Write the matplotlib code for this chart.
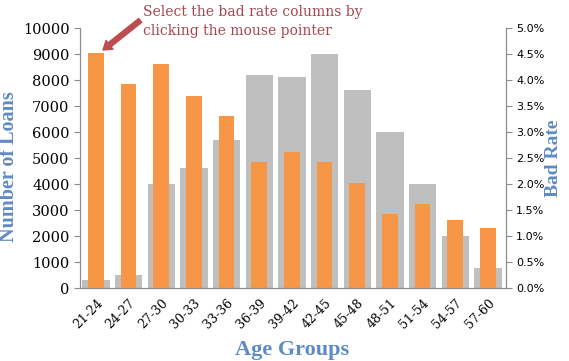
import numpy as np
import matplotlib.pyplot as plt
from matplotlib.ticker import FuncFormatter

age_groups = ['21-24', '24-27', '27-30', '30-33', '33-36', '36-39', '39-42',
              '42-45', '45-48', '48-51', '51-54', '54-57', '57-60']
num_loans = [300, 500, 4000, 4600, 5700, 8200, 8100, 9000, 7600, 6000, 4000, 2000, 780]
bad_rate = [4.52, 3.92, 4.30, 3.70, 3.30, 2.43, 2.62, 2.43, 2.02, 1.43, 1.62, 1.31, 1.16]

title_color = '#5f8ac4'
axis_color = '#8c8c8c'

fig = plt.figure(figsize=(5.69, 3.61), dpi=100)
ax = fig.add_axes([0.1406, 0.2022, 0.7484, 0.7202])
ax2 = ax.twinx()

x = np.arange(len(age_groups))
ax.bar(x, num_loans, width=0.84, color='#bfbfbf', zorder=1)
ax2.bar(x, bad_rate, width=0.48, color='#f79646', zorder=2)

ax.set_xlim(-0.49, len(age_groups) - 0.45)
ax.set_ylim(0, 10000)
ax.set_yticks(range(0, 10001, 1000))
ax2.set_ylim(0, 5)
ax2.set_yticks(np.arange(0, 5.01, 0.5))
ax2.yaxis.set_major_formatter(FuncFormatter(lambda v, p: '%.1f%%' % v))

ax.set_xticks(x)
ax.set_xticklabels(age_groups, rotation=45, ha='right', rotation_mode='anchor',
                   family='DejaVu Serif', fontsize=9)
ax.tick_params(axis='x', length=0, pad=6)
ax.tick_params(axis='y', labelsize=10.5, colors='black', length=4, color=axis_color)
for lbl in ax.get_yticklabels():
    lbl.set_family('DejaVu Serif')
ax2.tick_params(axis='y', labelsize=8, length=4, color=axis_color)

for a in (ax, ax2):
    a.spines['top'].set_visible(False)
    for s in ('left', 'right', 'bottom'):
        a.spines[s].set_color(axis_color)

ax.set_xlabel('Age Groups', fontsize=16, fontweight='bold', color=title_color,
              family='Liberation Serif')
ax.xaxis.set_label_coords(0.498, -0.2)
ax.set_ylabel('Number of Loans', fontsize=14.5, fontweight='bold', color=title_color,
              family='Liberation Serif')
ax.yaxis.set_label_coords(-0.143, 0.465)
ax2.set_ylabel('Bad Rate', fontsize=14, fontweight='bold', color=title_color,
               family='Liberation Serif')
ax2.yaxis.set_label_coords(1.092, 0.5)

ax.annotate('Select the bad rate columns by\nclicking the mouse pointer',
            xy=(103, 311), xycoords='figure pixels', xytext=(143, 356),
            textcoords='figure pixels', fontsize=10, color='#a8474f',
            family='DejaVu Serif', va='top', ha='left', linespacing=1.45,
            arrowprops=dict(arrowstyle='simple,head_width=0.8,head_length=0.6,tail_width=0.35',
                            color='#be4b50', shrinkA=0, shrinkB=0,
                            relpos=(0.0, 0.6)))

fig.savefig('out.png', dpi=100)
